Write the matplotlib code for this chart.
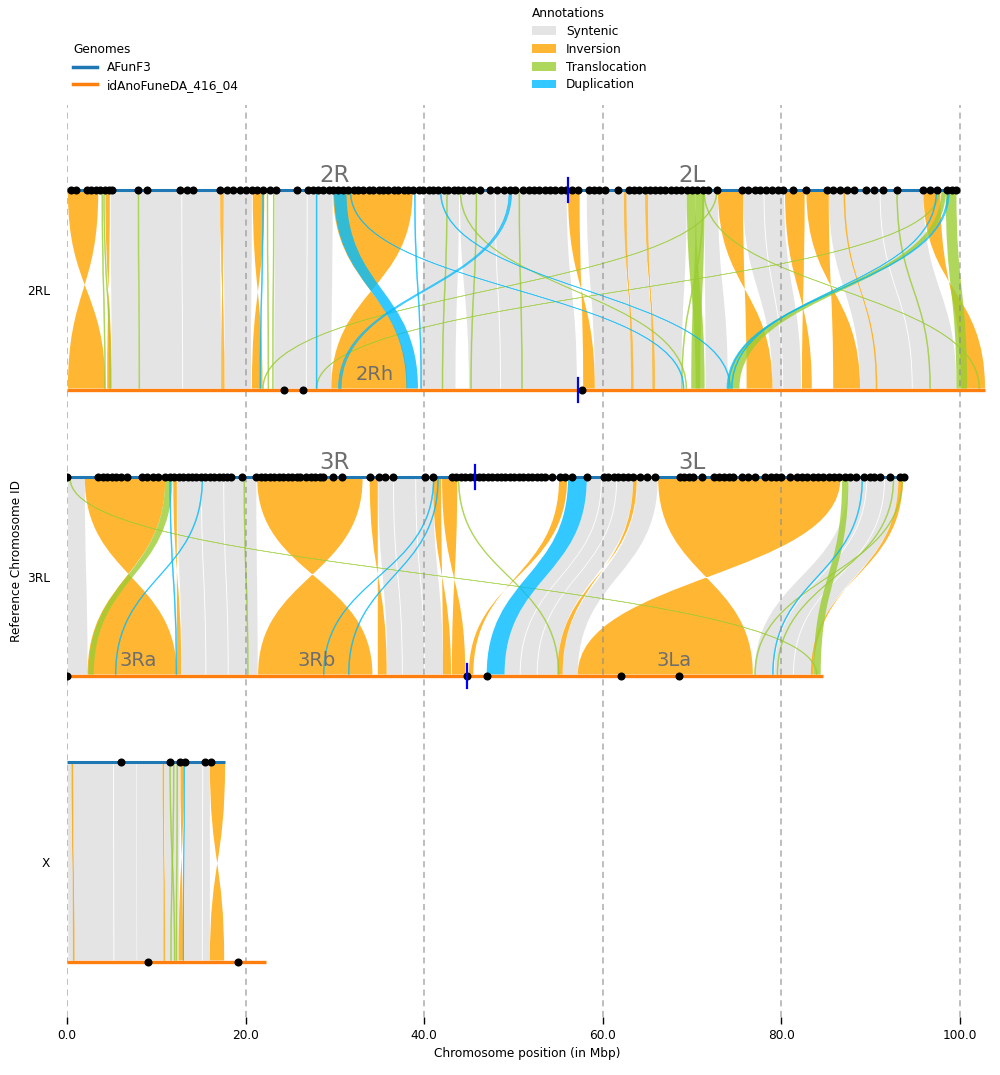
import matplotlib
matplotlib.use("Agg")
import matplotlib.pyplot as plt
from matplotlib.path import Path
from matplotlib.patches import PathPatch, Patch
from matplotlib.lines import Line2D

plt.rcParams['font.family'] = ['DejaVu Sans']
FS = 8.75

# ---------------- data ----------------
chrom_ids = ["2RL", "3RL", "X"]
genomes = ["AFunF3", "idAnoFuneDA_416_04"]
ref_len = [99.7, 93.8, 17.7]
qry_len = [102.8, 84.7, 22.3]
xticks = [0, 20, 40, 60, 80, 100]
xtick_labels = ["0.0", "20.0", "40.0", "60.0", "80.0", "100.0"]

# bands: (ref_start, ref_end, qry_start, qry_end) in Mbp
syn_2RL = [(4.9, 7.95, 5.0, 8.05), (8.05, 12.8, 8.15, 12.9), (12.9, 17.15, 13.0, 17.25),
           (17.55, 20.7, 17.65, 20.6), (23.3, 26.85, 23.2, 26.75), (26.95, 29.75, 26.85, 29.6),
           (40.0, 43.9, 39.6, 43.5), (44.0, 47.9, 45.0, 48.5), (48.0, 55.95, 48.6, 57.1),
           (58.2, 62.4, 59.1, 63.2), (62.6, 64.8, 63.4, 65.6), (65.0, 69.4, 65.8, 68.8),
           (71.4, 72.9, 71.5, 74.0), (75.7, 78.0, 79.0, 80.1), (78.1, 80.3, 80.2, 82.2),
           (85.3, 87.0, 88.8, 90.6), (87.1, 91.0, 90.7, 94.6), (91.1, 95.9, 94.7, 99.6)]
inv_2RL = [(0.1, 3.5, 0.1, 4.3), (4.3, 4.8, 4.5, 5.0), (17.2, 17.5, 17.3, 17.6),
           (20.8, 22.1, 20.7, 21.9), (29.8, 38.7, 29.6, 38.1), (56.1, 57.4, 57.8, 59.1),
           (62.4, 62.6, 63.2, 63.4), (64.8, 65.0, 65.6, 65.8), (72.9, 75.7, 76.1, 79.0),
           (80.4, 82.6, 82.3, 83.4), (82.8, 85.3, 85.8, 88.8), (87.0, 87.1, 90.6, 90.7),
           (95.9, 97.8, 100.1, 102.8)]
tra_2RL = [(3.9, 4.0, 4.2, 4.3), (4.1, 4.2, 4.8, 4.9), (7.95, 8.05, 8.05, 8.15),
           (22.4, 22.5, 22.5, 22.6), (23.1, 23.2, 23.0, 23.1),
           (69.4, 70.4, 70.4, 71.4), (70.4, 71.4, 69.9, 70.9), (71.2, 71.3, 68.8, 68.9),
           (97.9, 98.4, 74.0, 75.3), (98.4, 99.6, 99.6, 100.8),
           (72.7, 72.8, 21.9, 22.0), (97.6, 97.7, 27.9, 28.0), (71.3, 71.4, 102.1, 102.2),
           (44.0, 44.1, 69.3, 69.4), (92.9, 93.0, 96.6, 96.7), (42.5, 42.6, 42.0, 42.1),
           (45.8, 45.9, 45.2, 45.3), (50.6, 50.7, 50.9, 51.0)]
dup_2RL = [(29.9, 31.3, 38.0, 39.3), (27.9, 28.0, 27.9, 28.0), (21.9, 22.0, 21.6, 21.7),
           (49.5, 49.8, 30.4, 30.7), (41.8, 41.9, 74.2, 74.3), (31.7, 31.8, 69.0, 69.1),
           (38.9, 39.0, 39.6, 39.7), (98.6, 98.8, 73.9, 74.1), (97.3, 97.4, 74.4, 74.5)]

syn_3RL = [(0.1, 2.0, 0.1, 2.3), (12.35, 15.0, 12.85, 15.5), (15.1, 17.5, 15.6, 18.0),
           (17.6, 21.2, 18.1, 21.35), (34.85, 36.5, 35.85, 37.5), (36.6, 39.0, 37.6, 40.0),
           (39.1, 41.0, 40.1, 42.1), (58.2, 59.8, 49.0, 50.7), (59.9, 61.5, 50.8, 52.6),
           (61.6, 63.4, 52.7, 54.9), (63.85, 66.15, 55.5, 57.2), (87.5, 89.5, 77.0, 79.1),
           (89.6, 91.5, 79.2, 81.3), (91.6, 93.1, 81.4, 83.4)]
inv_3RL = [(2.0, 11.0, 2.3, 12.3), (11.9, 12.3, 12.3, 12.8), (21.3, 33.1, 21.4, 34.2),
           (33.9, 34.8, 34.8, 35.8), (41.0, 41.9, 42.1, 43.0), (42.0, 43.7, 43.1, 44.6),
           (55.1, 56.0, 45.0, 45.5), (63.4, 63.8, 54.9, 55.5), (66.2, 86.6, 57.2, 76.8),
           (93.1, 93.6, 83.3, 83.6)]
tra_3RL = [(11.0, 11.8, 2.4, 3.0), (19.8, 19.9, 20.2, 20.3), (0.3, 0.4, 83.9, 84.0),
           (43.8, 43.9, 55.0, 55.1), (86.8, 87.5, 83.6, 84.4), (93.5, 93.6, 77.0, 77.1),
           (92.5, 92.6, 79.5, 79.6)]
dup_3RL = [(15.1, 15.2, 5.4, 5.5), (11.5, 11.6, 12.2, 12.3), (41.0, 41.1, 28.7, 28.8),
           (41.5, 41.6, 31.5, 31.6), (56.1, 58.2, 47.0, 49.0), (89.0, 89.1, 79.0, 79.1)]

syn_X = [(0.1, 5.15, 0.15, 5.2), (5.25, 7.75, 5.3, 7.8), (7.8, 10.75, 7.85, 10.85),
         (10.9, 12.65, 10.95, 12.5), (13.15, 15.15, 13.05, 15.1), (15.25, 16.0, 15.2, 16.0)]
inv_X = [(0.55, 0.65, 0.7, 0.8), (10.75, 10.85, 10.85, 10.95), (12.7, 13.1, 12.5, 13.0),
         (16.0, 17.7, 16.0, 17.6)]
tra_X = [(11.5, 11.6, 12.0, 12.1), (11.9, 12.0, 11.6, 11.7), (12.3, 12.4, 12.2, 12.3)]
dup_X = [(13.1, 13.15, 13.0, 13.05)]

dots_ref_2RL = [0.4, 1.0, 2.2, 2.7, 3.2, 3.7, 4.2, 4.7, 5.0, 8.0, 9.0, 12.7, 13.4, 14.1,
                17.1, 17.9, 18.6, 19.4, 20.1, 20.7, 21.3, 22.0, 22.7, 23.4, 25.8, 27.0,
                27.6, 28.1, 28.7, 29.3, 29.8, 30.4, 30.9, 31.5, 32.1, 32.6, 33.2, 33.8,
                34.3, 34.9, 35.4, 36.0, 36.6, 37.1, 37.7, 38.2, 38.8, 39.4, 39.9, 40.5,
                41.0, 41.6, 42.2, 42.7, 43.3, 43.8, 44.4, 45.0, 45.5, 46.3, 47.4, 48.2,
                48.9, 49.6, 50.2, 51.1, 51.7, 52.3, 52.9, 53.5, 54.1, 54.7, 55.3, 55.9,
                56.5, 57.2, 58.4, 59.0, 59.6, 60.3, 61.7, 62.9, 63.5, 64.1, 64.7, 65.3,
                65.8, 66.4, 67.0, 67.6, 68.2, 68.8, 69.4, 70.0, 70.6, 71.2, 71.8, 72.8,
                75.6, 76.3, 77.0, 77.6, 78.3, 79.0, 79.6, 80.2, 81.3, 82.8, 85.1, 85.8,
                86.6, 87.4, 88.1, 89.5, 90.4, 91.4, 92.9, 95.9, 96.6, 97.4, 98.5, 99.1, 99.6]
dots_qry_2RL = [24.3, 26.4, 57.7]
dots_ref_3RL = [0.0, 3.5, 4.0, 4.5, 5.0, 5.5, 6.0, 6.7, 8.4, 9.0, 9.6, 10.2, 11.0, 11.5,
                12.0, 12.5, 13.0, 13.5, 14.0, 14.5, 15.0, 15.5, 16.0, 16.5, 17.0, 17.5,
                17.9, 18.4, 19.6, 21.2, 21.7, 22.2, 22.7, 23.2, 23.7, 24.2, 24.7, 25.2,
                25.7, 26.1, 26.8, 27.3, 27.8, 28.3, 28.7, 29.8, 30.8, 33.9, 34.9, 35.6,
                36.5, 40.1, 41.0, 43.1, 43.6, 44.1, 44.6, 45.1, 45.6, 46.1, 46.6, 47.1,
                47.6, 48.1, 48.6, 49.1, 49.6, 50.1, 50.6, 51.1, 51.6, 52.1, 52.6, 53.1,
                53.5, 54.3, 55.2, 55.8, 56.5, 58.2, 60.1, 60.6, 61.2, 61.7, 62.3, 62.8,
                63.4, 64.2, 64.9, 65.8, 68.6, 69.1, 69.6, 70.1, 71.1, 72.4, 73.0, 73.6,
                74.1, 74.6, 75.6, 76.3, 77.0, 78.2, 78.8, 79.4, 80.0, 81.0, 81.7, 82.3,
                82.9, 83.5, 84.1, 84.7, 85.3, 85.9, 86.5, 87.1, 87.7, 88.3, 89.2, 89.9,
                90.4, 91.0, 92.2, 93.3, 93.7]
dots_qry_3RL = [0.0, 44.8, 47.0, 62.0, 68.5]
dots_ref_X = [6.0, 11.5, 12.7, 13.2, 15.5, 16.1]
dots_qry_X = [9.1, 19.2]

cen_ref = [56.1, 45.7, None]
cen_qry = [57.2, 44.8, None]

arm_labels = ["2R", "2L", "3R", "3L"]
arm_pos = [30.0, 70.0, 30.0, 70.0]
arm_chrom = [0, 0, 1, 1]
inv_labels = ["2Rh", "3Ra", "3Rb", "3La"]
inv_label_pos = [34.5, 8.0, 28.0, 68.0]
inv_label_chrom = [0, 1, 1, 1]

annot_names = ["Syntenic", "Inversion", "Translocation", "Duplication"]

# ---------------- style / layout ----------------
C_SYN, C_INV, C_TRA, C_DUP = '#DEDEDE', '#FFA500', '#9ACD32', '#00BBFF'
C_REF, C_QRY = '#1f77b4', '#ff7f0e'
ALPHA = 0.8
REF_Y = [190, 477, 762]
QRY_Y = [390, 676, 962]

bands = [
    {"syn": syn_2RL, "inv": inv_2RL, "tra": tra_2RL, "dup": dup_2RL},
    {"syn": syn_3RL, "inv": inv_3RL, "tra": tra_3RL, "dup": dup_3RL},
    {"syn": syn_X, "inv": inv_X, "tra": tra_X, "dup": dup_X},
]
dots_ref = [dots_ref_2RL, dots_ref_3RL, dots_ref_X]
dots_qry = [dots_qry_2RL, dots_qry_3RL, dots_qry_X]

fig = plt.figure(figsize=(10, 10.75), dpi=100)
ax = fig.add_axes([0.067, 58 / 1075, 0.9207, 912 / 1075])
ax.set_xlim(0, 103.1)
ax.set_ylim(1017, 105)


def band(ytop, ybot, rs, re, qs, qe, color, inverted, z):
    ym = (ytop + ybot) / 2
    if inverted:
        qr, ql = qs, qe
    else:
        qr, ql = qe, qs
    verts = [(rs, ytop), (re, ytop), (re, ym), (qr, ym), (qr, ybot), (ql, ybot),
             (ql, ym), (rs, ym), (rs, ytop), (rs, ytop)]
    codes = [Path.MOVETO, Path.LINETO, Path.CURVE4, Path.CURVE4, Path.CURVE4,
             Path.LINETO, Path.CURVE4, Path.CURVE4, Path.CURVE4, Path.CLOSEPOLY]
    thin = max(re - rs, qe - qs) < 0.35
    p = PathPatch(Path(verts, codes), facecolor=color, alpha=ALPHA if not thin else 0.7,
                  edgecolor=color if thin else 'none', lw=0.45 if thin else 0, zorder=z)
    ax.add_patch(p)


for i in range(len(chrom_ids)):
    yt, yb = REF_Y[i] + 1.5, QRY_Y[i] - 1.5
    for key, col, inv, z in [("syn", C_SYN, False, 1), ("inv", C_INV, True, 2),
                             ("tra", C_TRA, False, 3), ("dup", C_DUP, False, 4)]:
        for (rs, re, qs, qe) in bands[i][key]:
            band(yt, yb, rs, re, qs, qe, col, inv, z)
    ax.plot([0, ref_len[i]], [REF_Y[i], REF_Y[i]], color=C_REF, lw=2.2, zorder=6,
            solid_capstyle='butt')
    ax.plot([0, qry_len[i]], [QRY_Y[i], QRY_Y[i]], color=C_QRY, lw=2.4, zorder=6,
            solid_capstyle='butt')
    ax.plot(dots_ref[i], [REF_Y[i]] * len(dots_ref[i]), 'o', color='black', ms=5.8,
            mec='none', zorder=7)
    ax.plot(dots_qry[i], [QRY_Y[i]] * len(dots_qry[i]), 'o', color='black', ms=5.8,
            mec='none', zorder=7)
    if cen_ref[i] is not None:
        ax.plot([cen_ref[i]] * 2, [REF_Y[i] - 12, REF_Y[i] + 12], color='blue', lw=1.6, zorder=8)
        ax.plot([cen_qry[i]] * 2, [QRY_Y[i] - 12, QRY_Y[i] + 12], color='blue', lw=1.6, zorder=8)

for lab, x, c in zip(arm_labels, arm_pos, arm_chrom):
    ax.text(x, REF_Y[c] - 8, lab, ha='center', va='baseline', fontsize=16.5,
            color='#6e6e6e', zorder=9)
for lab, x, c in zip(inv_labels, inv_label_pos, inv_label_chrom):
    ax.text(x, QRY_Y[c] - 10, lab, ha='center', va='baseline', fontsize=14,
            color='#6e6e6e', zorder=9)

for xv in xticks:
    ax.axvline(xv, color='#8a8a8a', lw=1.1, alpha=0.7, dashes=(4, 3), zorder=5)

for s in ax.spines.values():
    s.set_visible(False)
ax.set_xticks(xticks)
ax.set_xticklabels(xtick_labels, fontsize=FS)
ax.tick_params(axis='x', length=5, width=1)
ax.set_yticks([(a + b) / 2 for a, b in zip(REF_Y, QRY_Y)])
ax.set_yticklabels(chrom_ids, fontsize=FS)
ax.tick_params(axis='y', length=0, pad=12)
ax.set_xlabel("Chromosome position (in Mbp)", fontsize=FS)
ax.set_ylabel("Reference Chromosome ID", fontsize=FS, labelpad=3)

g_handles = [Line2D([], [], color=C_REF, lw=2.5), Line2D([], [], color=C_QRY, lw=2.5)]
leg1 = fig.legend(g_handles, genomes, title="Genomes", loc='upper left',
                  bbox_to_anchor=(0.073, 1 - 43 / 1075), frameon=False, fontsize=FS,
                  title_fontsize=FS, borderpad=0, borderaxespad=0, labelspacing=0.4,
                  alignment='left')
a_handles = [Patch(facecolor=c, alpha=ALPHA, edgecolor='none') for c in (C_SYN, C_INV, C_TRA, C_DUP)]
leg2 = fig.legend(a_handles, annot_names, title="Annotations", loc='upper left',
                  bbox_to_anchor=(0.532, 1 - 7 / 1075), frameon=False, fontsize=FS,
                  title_fontsize=FS, borderpad=0, borderaxespad=0, labelspacing=0.4,
                  alignment='left')

fig.savefig("out.png", dpi=100)
